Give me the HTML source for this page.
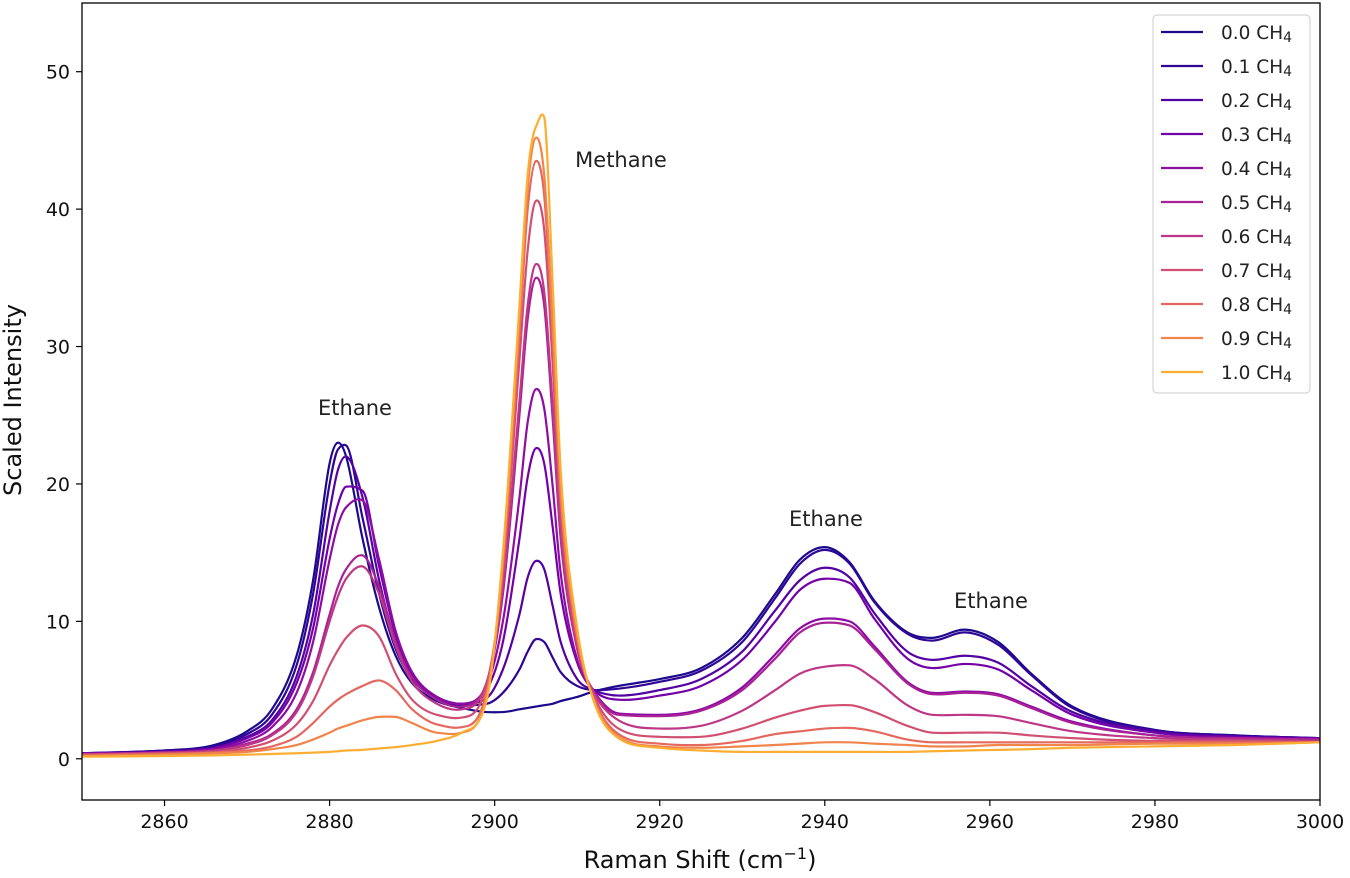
<!DOCTYPE html>
<html><head><meta charset="utf-8"><style>
html,body{margin:0;padding:0;background:#fff;}
svg{display:block;font-family:"DejaVu Sans","Liberation Sans",sans-serif;}
</style></head><body>
<svg id="chart" width="1350" height="878" viewBox="0 0 1350 878" xmlns="http://www.w3.org/2000/svg">
<rect x="0" y="0" width="1350" height="878" fill="#fff"/>
<g id="series"></g>
<g id="axes"></g>
<text x="355" y="415" font-size="21" text-anchor="middle" fill="#222">Ethane</text>
<text x="621" y="167" font-size="21" text-anchor="middle" fill="#222">Methane</text>
<text x="826" y="526" font-size="21" text-anchor="middle" fill="#222">Ethane</text>
<text x="991" y="608" font-size="21" text-anchor="middle" fill="#222">Ethane</text>
<text x="700" y="868" font-size="24" text-anchor="middle" fill="#111">Raman Shift (cm<tspan baseline-shift="super" font-size="16">−1</tspan>)</text>
<text transform="translate(21,400) rotate(-90)" font-size="24" text-anchor="middle" fill="#111">Scaled Intensity</text>
<g id="legend"></g>
</svg>
<script>
const xValues = [2850,2860,2866,2870,2873,2876,2878,2880,2881,2882,2884,2886,2888,2890,2893,2896,2899,2901,2903,2904,2905,2906,2907,2908,2910,2912,2915,2920,2925,2930,2934,2937,2940,2943,2946,2950,2953,2957,2961,2965,2970,2980,2990,3000];
const labels = ["0.0","0.1","0.2","0.3","0.4","0.5","0.6","0.7","0.8","0.9","1.0"];
const colors = ["#1b0b8c","#2f0596","#5302a3","#7201a8","#8e0ca4","#a82296","#bd3786","#d04f73","#e3685f","#f1844b","#fcae32"];
const s00 = [0.4,0.6,1.0,2.0,3.6,7.5,13,21.5,23,22,16,11,7.5,5.5,4.2,3.7,3.4,3.4,3.6,3.7,3.8,3.9,4.0,4.2,4.5,4.9,5.3,5.8,6.6,8.8,12.0,14.5,15.4,14.3,11.5,9.2,8.8,9.4,8.5,6.2,3.8,2.1,1.7,1.5];
const s01 = [0.4,0.6,0.9,1.8,3.2,6.8,12,20,22.5,22.8,17.5,12,8,5.8,4.4,3.9,4.0,4.8,6.5,7.8,8.7,8.5,7.4,6.3,5.3,5.0,5.1,5.6,6.4,8.5,11.7,14.2,15.2,14.2,11.4,9.1,8.6,9.2,8.3,6.1,3.7,2.1,1.7,1.5];
const s02 = [0.4,0.5,0.8,1.6,2.8,6,10.5,18,21,22,19,13,8.5,6,4.5,4.0,4.4,6.5,10.5,13.2,14.4,13.8,11.2,8.5,5.8,5.0,4.6,5.0,5.8,7.8,10.8,13.0,13.9,13.2,10.6,7.8,7.2,7.5,7.0,5.3,3.4,2.0,1.6,1.5];
const s03 = [0.4,0.5,0.8,1.5,2.6,5.5,9.5,16,18.5,19.8,19.5,14,9,6.2,4.5,4.0,5.0,8.5,16,20.5,22.6,21.5,17,12,7,5.0,4.3,4.6,5.3,7.2,10,12.3,13.1,12.8,10.2,7.3,6.6,6.9,6.5,5.0,3.2,1.9,1.6,1.5];
const s04 = [0.35,0.5,0.7,1.3,2.3,4.8,8.5,14.5,17,18.3,18.8,14.5,9.3,6.3,4.5,4.0,5.3,10,19,24.5,26.9,25.5,20,13.5,7.2,4.9,3.3,3.2,3.6,5.2,7.6,9.5,10.2,10.0,8.2,5.6,4.8,4.9,4.7,3.8,2.7,1.7,1.5,1.4];
const s05 = [0.35,0.45,0.6,1.1,1.8,3.6,6.3,10.5,12.5,13.8,14.8,12.5,8.5,5.9,4.3,3.8,5.5,12,25,32,35,33,25,16,8,4.9,3.2,3.1,3.5,5.0,7.3,9.2,9.9,9.7,8.0,5.5,4.7,4.8,4.6,3.7,2.6,1.7,1.5,1.4];
const s06 = [0.3,0.45,0.6,1.0,1.7,3.4,6,10,11.8,13.1,14,12,8.2,5.6,4.0,3.6,5.5,12.5,26,33,36,34,26,16.5,8,4.8,2.8,2.2,2.4,3.5,5.0,6.2,6.7,6.8,5.8,3.9,3.2,3.2,3.1,2.6,2.0,1.5,1.4,1.3];
const s07 = [0.3,0.4,0.5,0.8,1.3,2.5,4.2,6.8,7.9,8.8,9.7,8.9,6.2,4.3,3.2,3.0,5.3,13.5,29,37,40.6,38.5,29,18,8.5,4.6,2.2,1.6,1.6,2.2,3.0,3.5,3.85,3.9,3.4,2.4,1.9,1.9,1.9,1.7,1.5,1.3,1.3,1.2];
const s08 = [0.25,0.35,0.45,0.6,0.9,1.6,2.6,3.8,4.3,4.7,5.3,5.7,5.0,3.6,2.5,2.3,4.8,14,31,40,43.5,41,31,19,8.8,4.4,1.8,1.1,1.0,1.3,1.8,2.0,2.2,2.25,2.0,1.4,1.2,1.2,1.2,1.2,1.2,1.2,1.2,1.2];
const s09 = [0.2,0.3,0.4,0.5,0.7,1.0,1.4,1.9,2.2,2.4,2.8,3.05,3.05,2.6,1.9,1.9,4.5,14.5,32,41.5,45.2,42.5,32,19.5,9,4.3,1.6,0.9,0.8,0.9,1.0,1.1,1.2,1.2,1.1,1.0,0.9,0.9,1.0,1.0,1.0,1.1,1.1,1.2];
const s10 = [0.15,0.2,0.25,0.3,0.35,0.4,0.45,0.5,0.55,0.6,0.65,0.75,0.85,1.0,1.3,1.9,4.2,15,33,42.5,46,46.7,35,21,9.5,4.2,1.5,0.8,0.6,0.5,0.5,0.5,0.5,0.5,0.5,0.5,0.55,0.6,0.65,0.7,0.8,0.9,1.0,1.2];
const seriesValues = [s00,s01,s02,s03,s04,s05,s06,s07,s08,s09,s10];
const xTicks = [2860,2880,2900,2920,2940,2960,2980,3000];
const yTicks = [0,10,20,30,40,50];

const NS = "http://www.w3.org/2000/svg";
const L = 82, R = 1320, T = 3, B = 800;
const xMin = 2850, xMax = 3000, yMin = -3, yMax = 55;
function xs(v){ return L + (v - xMin) / (xMax - xMin) * (R - L); }
function ys(v){ return B - (v - yMin) / (yMax - yMin) * (B - T); }
function mk(tag, attrs){ const e = document.createElementNS(NS, tag); for (const k in attrs) e.setAttribute(k, attrs[k]); return e; }

function smoothPath(px, py){
  const n = px.length, d = [], m = [];
  for (let i = 0; i < n - 1; i++) d.push((py[i+1]-py[i])/(px[i+1]-px[i]));
  m[0] = d[0]; m[n-1] = d[n-2];
  for (let i = 1; i < n - 1; i++){ m[i] = (d[i-1]*d[i] <= 0) ? (d[i-1]+d[i])/4 : (d[i-1]+d[i])/2; }
  for (let i = 0; i < n - 1; i++){
    if (d[i] === 0) continue;
    const a = m[i]/d[i], b = m[i+1]/d[i], s = a*a + b*b;
    if (s > 9){ const t = 3/Math.sqrt(s); m[i] = t*a*d[i]; m[i+1] = t*b*d[i]; }
  }
  let p = "M" + px[0].toFixed(2) + "," + py[0].toFixed(2);
  for (let i = 0; i < n - 1; i++){
    const h = px[i+1]-px[i];
    p += " C" + (px[i]+h/3).toFixed(2) + "," + (py[i]+m[i]*h/3).toFixed(2) + " " + (px[i+1]-h/3).toFixed(2) + "," + (py[i+1]-m[i+1]*h/3).toFixed(2) + " " + px[i+1].toFixed(2) + "," + py[i+1].toFixed(2);
  }
  return p;
}

const sg = document.getElementById("series");
const clip = mk("clipPath", {id: "plotclip"});
clip.appendChild(mk("rect", {x: L, y: T, width: R - L, height: B - T}));
sg.appendChild(clip);
sg.setAttribute("clip-path", "url(#plotclip)");
seriesValues.forEach((vals, si) => {
  const px = xValues.map(xs), py = vals.map(ys);
  const path = mk("path", {d: smoothPath(px, py), fill: "none", stroke: colors[si], "stroke-width": 2.2, "stroke-linejoin": "round"});
  
  
  sg.appendChild(path);
});

const ax = document.getElementById("axes");
const frame = mk("rect", {x: L, y: T, width: R - L, height: B - T, fill: "none", stroke: "#000", "stroke-width": 1.3});


ax.appendChild(frame);
xTicks.forEach(t => {
  const x = xs(t);
  const tk = mk("line", {x1: x, x2: x, y1: B, y2: B + 6, stroke: "#000", "stroke-width": 1.2});
  
  
  ax.appendChild(tk);
  const lb = mk("text", {x: x, y: B + 28, "font-size": 19, "text-anchor": "middle", fill: "#111"});
  lb.textContent = t;
  
  
  ax.appendChild(lb);
});
yTicks.forEach(t => {
  const y = ys(t);
  const tk = mk("line", {x1: L - 6, x2: L, y1: y, y2: y, stroke: "#000", "stroke-width": 1.2});
  
  
  ax.appendChild(tk);
  const lb = mk("text", {x: L - 12, y: y + 7, "font-size": 19, "text-anchor": "end", fill: "#111"});
  lb.textContent = t;
  
  
  ax.appendChild(lb);
});

const lg = document.getElementById("legend");
const box = mk("rect", {x: 1153, y: 15, width: 157, height: 378, rx: 4, fill: "#fff", "fill-opacity": 0.85, stroke: "#ccc", "stroke-width": 1});


lg.appendChild(box);
labels.forEach((lab, i) => {
  const y = 32 + i * 34;
  const g = mk("g", {});
  
  
  g.appendChild(mk("line", {x1: 1161, x2: 1203, y1: y, y2: y, stroke: colors[i], "stroke-width": 2.2}));
  const tx = mk("text", {x: 1221, y: y + 7, "font-size": 18.5, fill: "#222"});
  tx.textContent = lab + " CH";
  const sub = mk("tspan", {"font-size": 14, dy: 3});
  sub.textContent = "4";
  tx.appendChild(sub);
  g.appendChild(tx);
  lg.appendChild(g);
});
</script>
</body></html>
